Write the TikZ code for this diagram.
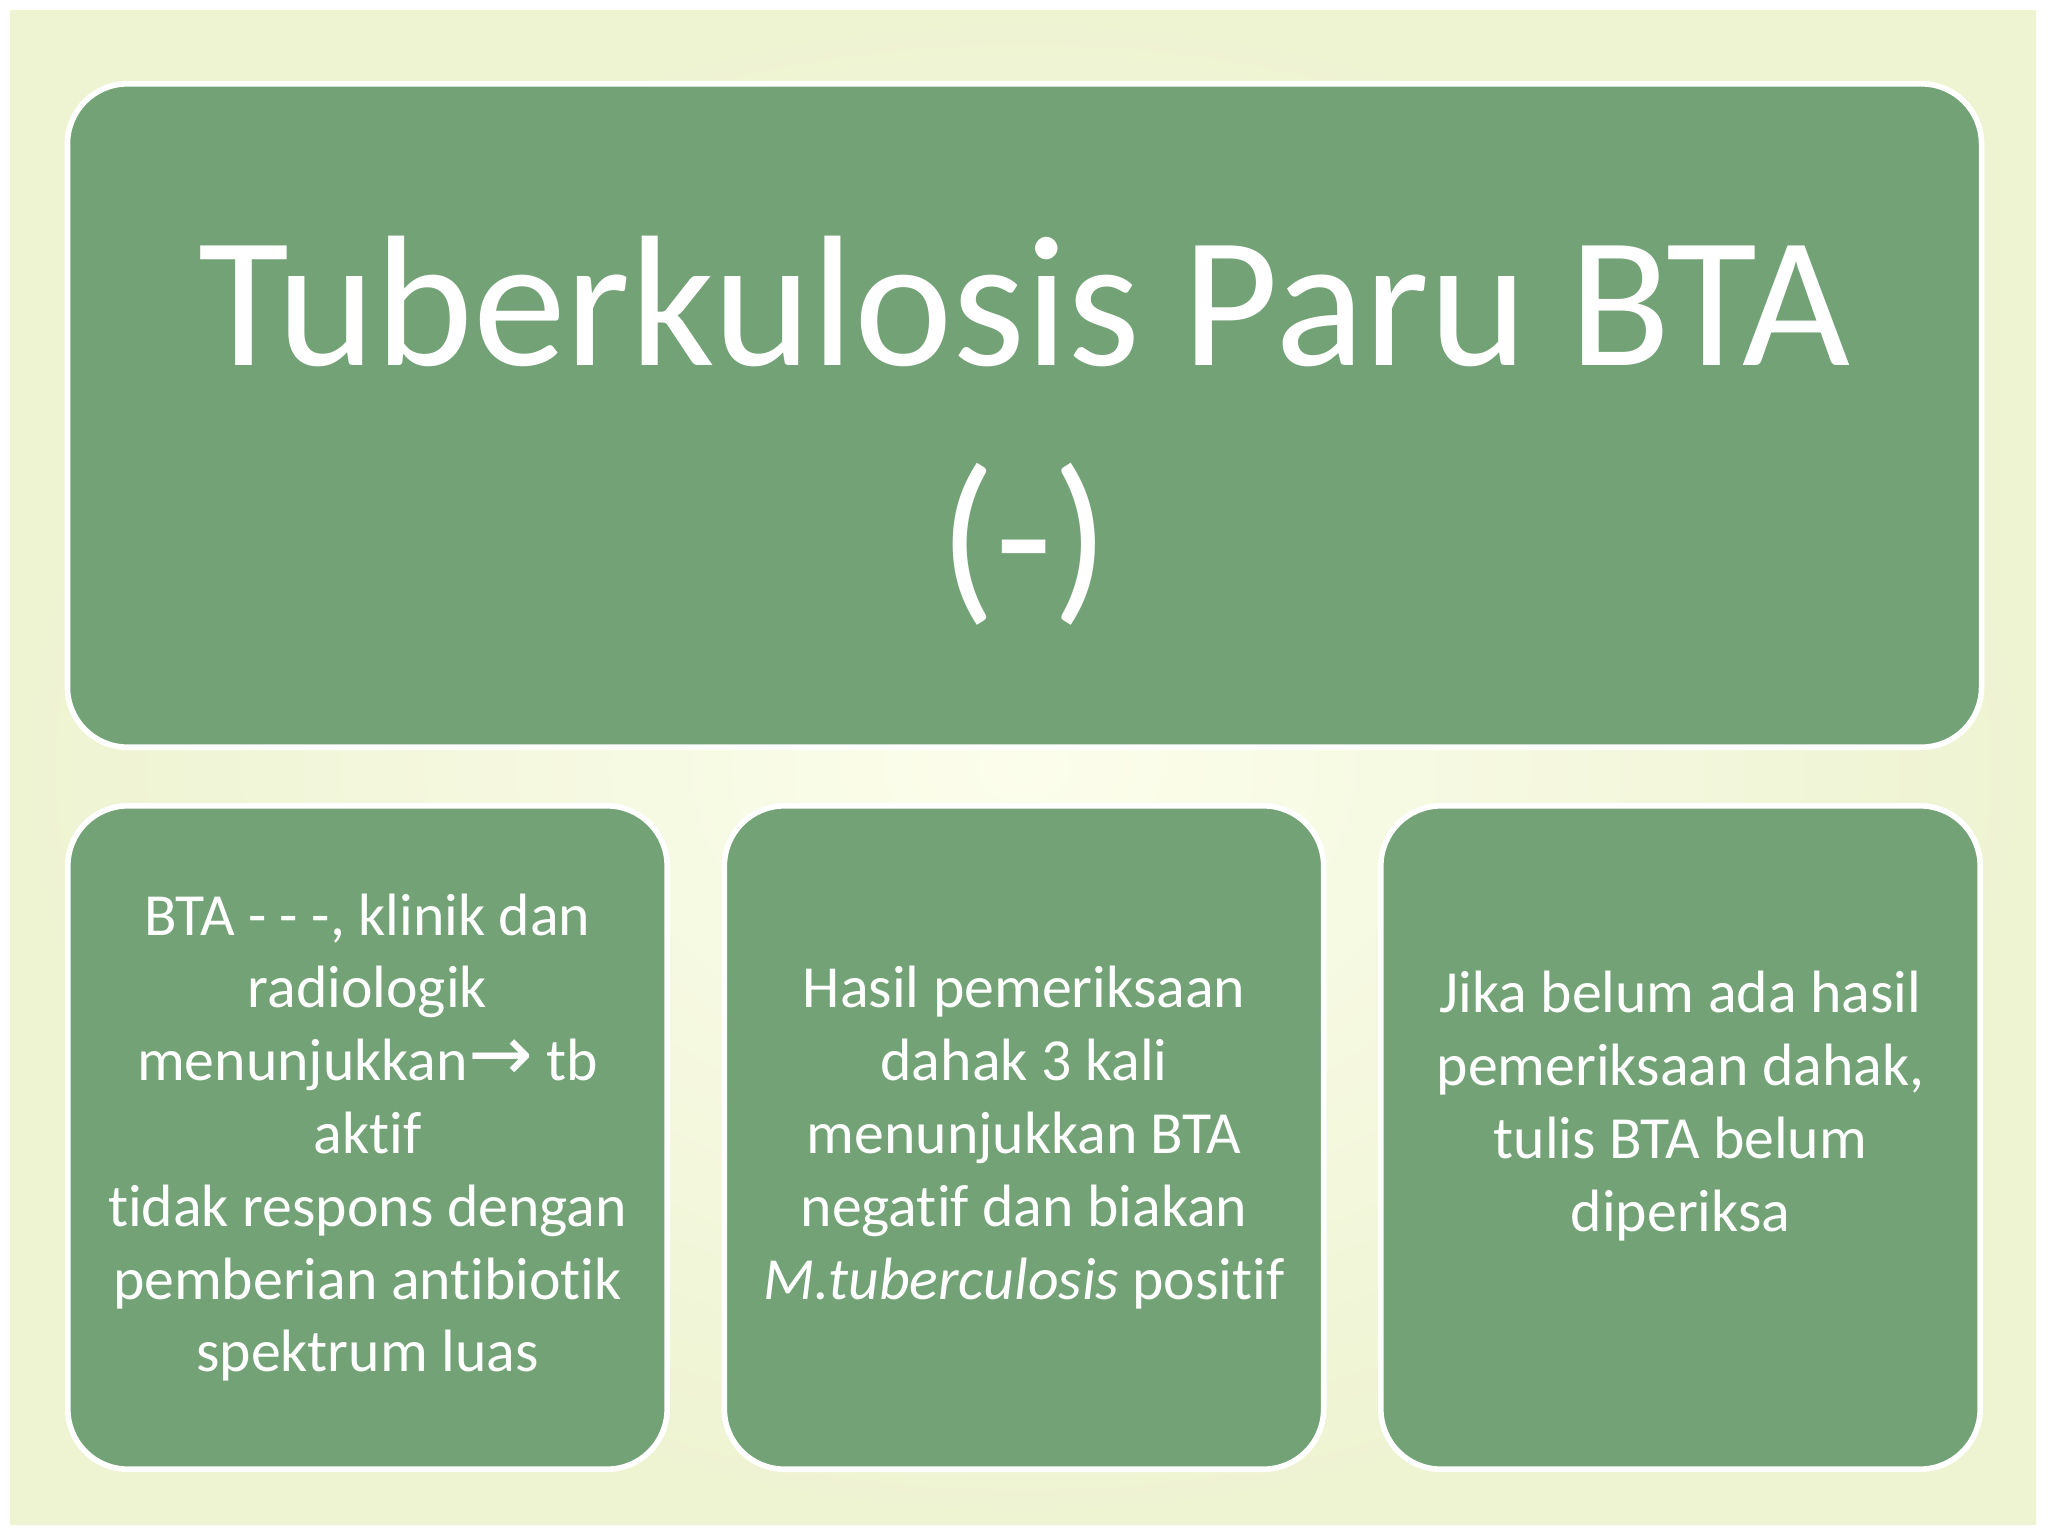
\documentclass[tikz,border=0pt]{standalone}
\usepackage{fontspec}
\setmainfont[Ligatures=NoCommon]{Carlito}
\newfontfamily\arrowfont{DejaVu Sans}
\usetikzlibrary{positioning}

\definecolor{boxgreen}{HTML}{72A276}
\definecolor{bgpale}{HTML}{FCFEEC}
\definecolor{bgedge}{HTML}{EEF3D2}

\begin{document}
\begin{tikzpicture}[x=0.01cm, y=-0.01cm,
  panel/.style={draw=white, line width=1.6pt, fill=boxgreen, rounded corners=0.6cm,
    text=white, align=center, inner sep=0pt},
  titlebox/.style={panel, minimum width=19.13cm, minimum height=6.63cm},
  titletext/.style={text=white, align=center, inner sep=0pt,
    font=\fontsize{53}{66.5}\selectfont},
  infobox/.style={panel, minimum width=5.99cm, minimum height=6.63cm,
    font=\fontsize{17}{20.7}\selectfont}]

% page and pale background
\fill[white] (0,0) rectangle (2048,1536);
\shade[inner color=bgpale, outer color=bgedge] (10,10) rectangle (2036,1524);

% title
\node[titlebox] (title) at (1024.5,415.5) {};
\node[titletext] (titlelabel) at (1024.5,431) {Tuberkulosis Paru BTA\\(-)};

% three criteria
\node[infobox] (klinik) at (367.5,1137.5) {BTA - - -, klinik dan\\radiologik\\menunjukkan{\arrowfont\fontsize{22}{20}\selectfont →} tb\\aktif\\tidak respons dengan\\pemberian antibiotik\\spektrum luas};
\node[infobox] (dahak) at (1024,1137.5) {Hasil pemeriksaan\\dahak 3 kali\\menunjukkan BTA\\negatif dan biakan\\\textit{M.tuberculosis} positif};
\node[infobox] (belum) at (1680.5,1137.5) {Jika belum ada hasil\\pemeriksaan dahak,\\tulis BTA belum\\diperiksa\\\mbox{}};

\end{tikzpicture}
\end{document}
